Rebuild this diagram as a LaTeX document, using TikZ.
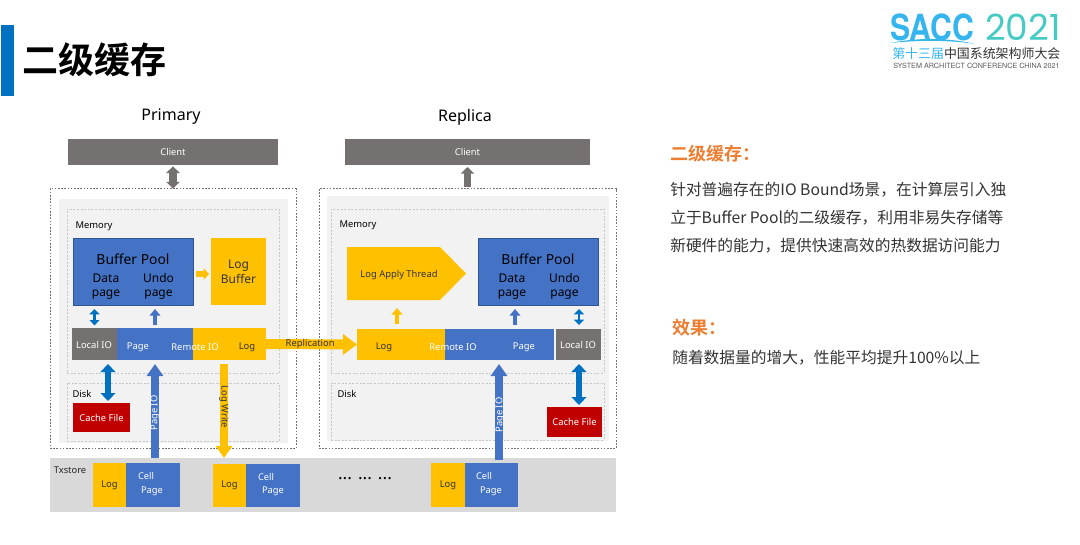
\documentclass[tikz,border=0pt]{standalone}
\usepackage{fontspec}
\setmainfont{Noto Sans}
\newfontfamily\cjk{Noto Sans CJK SC}
\newfontfamily\cjkbold{Noto Sans CJK SC Bold}
\newfontfamily\logofont{TeX Gyre Heros}
\newfontfamily\yearfont{Poppins}
\usetikzlibrary{arrows.meta,calc}
\definecolor{barblue}{HTML}{0070C0}
\definecolor{poolblue}{HTML}{4472C4}
\definecolor{pooledge}{HTML}{2F5597}
\definecolor{logyellow}{HTML}{FFC000}
\definecolor{stonegray}{HTML}{767171}
\definecolor{cachered}{HTML}{C00000}
\definecolor{panelgray}{HTML}{F2F2F2}
\definecolor{bandgray}{HTML}{D9D9D9}
\definecolor{headorange}{HTML}{ED7D31}
\definecolor{logoblue}{HTML}{35B5EE}
\definecolor{logoteal}{HTML}{45CBC4}
\newcommand{\pxfont}[1]{\fontsize{#1}{#1}\selectfont}
\tikzset{
  pxbox/.style n args={2}{anchor=north west,inner sep=0pt,outer sep=0pt,minimum width=#1*0.75pt,minimum height=#2*0.75pt},
  greybox/.style={fill=stonegray,text=white},
  blueblock/.style={fill=poolblue,text=white},
  yellowblock/.style={fill=logyellow,text=black!80},
  redblock/.style={fill=cachered,text=white},
  outerline/.style={draw=black!55,dash pattern=on 1.2pt off 1.2pt,line width=0.4pt},
  innerline/.style={draw=black!22,dash pattern=on 1.5pt off 1.2pt,line width=0.4pt},
  tinytext/.style={inner sep=0pt,font=\pxfont{7}},
  smalltext/.style={inner sep=0pt,font=\pxfont{7.05}},
  pagetext/.style={inner sep=0pt,align=center,font=\pxfont{9}},
  bodyline/.style={inner sep=0pt,anchor=west,font=\cjk\pxfont{11.8}},
  bigarrow/.style={line width=6pt,-{Triangle[length=9pt,width=12pt]}},
  bigboth/.style={line width=4.5pt,{Triangle[length=6pt,width=11pt]}-{Triangle[length=6pt,width=11pt]}},
  tinyarrow/.style={line width=3.6pt,-{Triangle[length=5pt,width=8pt]}},
  tinyboth/.style={line width=2.2pt,{Triangle[length=4pt,width=7.5pt]}-{Triangle[length=4pt,width=7.5pt]}},
}
\begin{document}
\begin{tikzpicture}[x=0.75pt,y=-0.75pt]
  \useasboundingbox (0,0) rectangle (1080,544);

  %title
  \fill[barblue] (1,25) rectangle (14,96);
  \node[inner sep=0pt,anchor=west] (title) at (22,60) {\cjkbold\pxfont{27}二级缓存};

  %logo
  \node[inner sep=0pt,anchor=west,text=logoblue] (logoname) at (890,27) {\scalebox{0.84}[1]{\logofont\bfseries\pxfont{27}SACC}};
  \node[inner sep=0pt,anchor=west,text=logoteal] (logoyear) at (985,27) {\yearfont\pxfont{27}2021};
  \fill[logoblue] (890,43) .. controls (920,37) and (950,38) .. (975,44) .. controls (950,40) and (920,40) .. cycle;
  \node[inner sep=0pt,anchor=west] (logocn) at (892,54) {\cjk\pxfont{9.7}\textcolor{logoblue}{第十三届}\textcolor{black!80}{中国系统架构师大会}};
  \node[inner sep=0pt,anchor=west,text=black!65] (logoen) at (893,65.5) {\logofont\pxfont{5.4}SYSTEM ARCHITECT CONFERENCE CHINA 2021};

  %headings
  \node[inner sep=0pt,font=\pxfont{12}] (primary) at (171,117) {Primary};
  \node[inner sep=0pt,font=\pxfont{12}] (replica) at (465,117) {Replica};
  \node[pxbox={210}{26},greybox,tinytext] (clientP) at (68,139) {Client};
  \node[pxbox={245}{26},greybox,tinytext] (clientR) at (345,139) {Client};

  %panels
  \node[pxbox={246}{260},outerline] (outerP) at (50,188.5) {};
  \node[pxbox={297}{260},outerline] (outerR) at (319,188.5) {};
  \fill[panelgray] (59,199) rectangle (288,443);
  \fill[panelgray] (327,196) rectangle (609,441);
  \node[pxbox={212}{164},innerline] (memoryP) at (67,209) {};
  \node[pxbox={212}{58},innerline] (diskP) at (67,383) {};
  \node[pxbox={273}{164},innerline] (memoryR) at (331,209) {};
  \node[pxbox={273}{57},innerline] (diskR) at (331,383) {};
  \node[smalltext] (memlabelP) at (94,226) {Memory};
  \node[smalltext] (disklabelP) at (82,394) {Disk};
  \node[smalltext] (memlabelR) at (358,225) {Memory};
  \node[smalltext] (disklabelR) at (347,394) {Disk};

  %buffer pool
  \node[pxbox={120}{67},fill=poolblue,draw=pooledge,line width=0.4pt] (bufferP) at (73,238) {};
  \node[inner sep=0pt,font=\pxfont{10.4}] (bufnameP) at (133,259) {Buffer Pool};
  \node[pagetext] (dataP) at (106,286.5) {Data\\[1pt]page};
  \node[pagetext] (undoP) at (158.5,286.5) {Undo\\[1pt]page};
  \node[pxbox={120}{67},fill=poolblue,draw=pooledge,line width=0.4pt] (bufferR) at (478,238) {};
  \node[inner sep=0pt,font=\pxfont{10.4}] (bufnameR) at (538,259) {Buffer Pool};
  \node[pagetext] (dataR) at (512,286.5) {Data\\[1pt]page};
  \node[pagetext] (undoR) at (564.5,286.5) {Undo\\[1pt]page};
  \node[pxbox={55}{67},yellowblock,pagetext] (logbufP) at (211,238) {Log\\[1pt]Buffer};

  %apply thread
  \fill[logyellow] (347,247) -- (440,247) -- (466,273.5) -- (440,300) -- (347,300) -- cycle;
  \node[smalltext,text=black!80] (applyR) at (399,275) {Log Apply Thread};

  %io row
  \node[pxbox={45}{32},greybox] (localP) at (72,328) {};
  \node[pxbox={76}{32},blueblock] (pageP) at (117,328) {};
  \node[pxbox={73}{32},yellowblock] (logP) at (193,328) {};
  \node[pxbox={88}{31},yellowblock] (logR) at (357,329) {};
  \node[pxbox={109}{31},blueblock] (pageR) at (445,329) {};
  \node[pxbox={45}{31},greybox] (localR) at (556,329) {};
  \node[smalltext,text=white] at (94,345) {Local IO};
  \node[smalltext,text=white] at (138,347) {Page};
  \node[smalltext,text=white] at (195,347) {Remote IO};
  \node[smalltext,text=black!80] at (247,347) {Log};
  \node[smalltext,text=black!80] at (384,347) {Log};
  \node[smalltext,text=white] at (453,347) {Remote IO};
  \node[smalltext,text=white] at (524,347) {Page};
  \node[smalltext,text=white] at (578,345) {Local IO};

  %cache files
  \node[pxbox={57}{29},redblock,smalltext] (cacheP) at (73,403) {Cache File};
  \node[pxbox={55}{30},redblock,smalltext] (cacheR) at (547,407) {Cache File};

  %txstore
  \node[pxbox={566}{54},fill=bandgray] (txstore) at (50,458) {};
  \node[tinytext,text=black!85] (txlabel) at (70,470) {Txstore};
  \node[pxbox={33}{44},yellowblock,smalltext] (txlogA) at (93,463) {Log};
  \node[pxbox={54}{44},blueblock] (txcellA) at (126,463) {};
  \node[pxbox={33}{43},yellowblock,smalltext] (txlogB) at (213,464) {Log};
  \node[pxbox={54}{43},blueblock] (txcellB) at (246,464) {};
  \node[pxbox={34}{44},yellowblock,smalltext] (txlogC) at (431,463) {Log};
  \node[pxbox={53}{44},blueblock] (txcellC) at (465,463) {};
  \node[tinytext,text=white] at (146,476) {Cell};
  \node[tinytext,text=white] at (152,491) {Page};
  \node[tinytext,text=white] at (266,477) {Cell};
  \node[tinytext,text=white] at (273,491) {Page};
  \node[tinytext,text=white] at (484,476) {Cell};
  \node[tinytext,text=white] at (491,491) {Page};
  \node[inner sep=0pt,font=\bfseries\pxfont{13}] (txdots) at (365,479) {... ... ...};

  %arrows
  \coordinate (pageioP) at (pageP.south |- txstore.north);
  \coordinate (pageioR) at (499,460);
  \coordinate (pageioRtop) at (499,364);
  \coordinate (logwriteTop) at (224,364);
  \coordinate (logwriteEnd) at (224,458);
  \coordinate (localioP) at (108,364);
  \coordinate (cacheioP) at (108,401);
  \coordinate (localioR) at (579,364);
  \coordinate (cacheioR) at (579,405);
  \coordinate (fromlogR) at (397,324);
  \coordinate (toapplyR) at (397,308);
  \coordinate (frompageR) at (515,325);
  \coordinate (tobufR) at (515,309);
  \draw[stonegray,line width=5.5pt,{Triangle[length=5pt,width=10pt]}-{Triangle[length=5pt,width=10pt]},shorten <=1pt] (clientP.south) -- (outerP.north);
  \draw[stonegray,line width=5.5pt,-{Triangle[length=5pt,width=10pt]},shorten >=1.5pt,shorten <=1pt] (outerR.north) -- (clientR.south);
  \draw[logyellow,line width=5pt,-{Triangle[length=4pt,width=8.5pt]}] (196,274) -- (209,274) coordinate (tologbuf);
  \draw[barblue,tinyboth,shorten <=2pt,shorten >=3pt] (localP.north) -- (localP.north |- bufferP.south);
  \draw[poolblue,tinyarrow,shorten <=2pt,shorten >=3pt] (pageP.north) -- (pageP.north |- bufferP.south);
  \draw[logyellow,tinyarrow] (fromlogR) -- (toapplyR);
  \draw[poolblue,tinyarrow] (frompageR) -- (tobufR);
  \draw[barblue,tinyboth,shorten <=3pt,shorten >=3pt] (localR.north -| localioR) -- (bufferR.south -| localioR);
  \draw[barblue,bigboth] (localioP) -- (cacheioP);
  \draw[barblue,bigboth] (localioR) -- (cacheioR);
  \draw[poolblue,bigarrow,shorten >=3pt] (pageioP) -- (pageP.south);
  \draw[poolblue,bigarrow] (pageioR) -- (pageioRtop);
  \draw[logyellow,bigarrow] (logwriteTop) -- (logwriteEnd);
  \draw[logyellow,line width=7.5pt,-{Triangle[length=10.5pt,width=15pt]}] (logP.east) -- (logR.west) node[midway,smalltext,text=black!80,xshift=-1pt] (repl) {Replication};
  \node[smalltext,text=white,rotate=90] (pageiolabelP) at (155,413) {Page IO};
  \node[smalltext,text=white,rotate=90] (pageiolabelR) at (500,415) {Page IO};
  \node[smalltext,text=black!80,rotate=-90] (logwritelabel) at (224,407) {Log Write};

  %right text
  \node[bodyline,text=headorange,font=\cjkbold\pxfont{13.5}] (headA) at (670,154) {二级缓存：};
  \node[bodyline,text=black!80] (lineA) at (670,190) {针对普遍存在的IO Bound场景，在计算层引入独};
  \node[bodyline,text=black!80] (lineB) at (670,218) {立于Buffer Pool的二级缓存，利用非易失存储等};
  \node[bodyline,text=black!80] (lineC) at (670,246) {新硬件的能力，提供快速高效的热数据访问能力};
  \node[bodyline,text=headorange,font=\cjkbold\pxfont{13.5}] (headB) at (672,328) {效果：};
  \node[bodyline,text=black!80] (lineD) at (672,358) {随着数据量的增大，性能平均提升100\%以上};
\end{tikzpicture}
\end{document}
